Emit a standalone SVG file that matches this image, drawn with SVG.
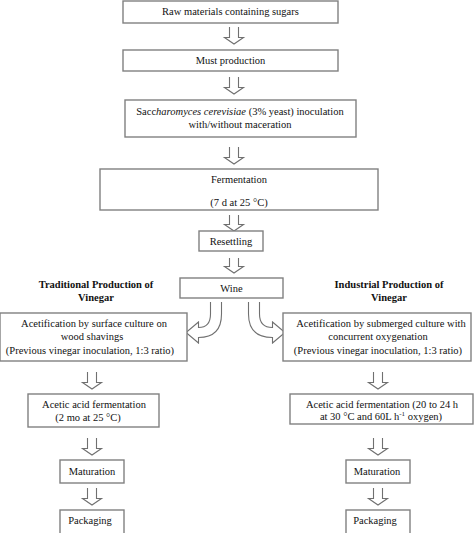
<svg xmlns="http://www.w3.org/2000/svg" width="474" height="533" viewBox="0 0 474 533">
<defs>
<style>
.box{fill:#fff;stroke:#808080;stroke-width:1.4}
.arr{fill:#fff;stroke:#707070;stroke-width:1.1;stroke-linejoin:miter}
text{font-family:"Liberation Serif","Times New Roman",Times,serif;font-size:10.5px;fill:#111;text-anchor:middle}
.b{font-weight:bold}
</style>
</defs>
<rect width="474" height="533" fill="#fff"/>
<g id="connectors">
<path class="arr" d="M229.5,27 V37.5 H224.5 L234,44 L243.5,37.5 H238.5 V27"/>
<path class="arr" d="M229.5,77 V87.5 H224.5 L234,94 L243.5,87.5 H238.5 V77"/>
<path class="arr" d="M229.5,147 V157.5 H224.5 L234,164 L243.5,157.5 H238.5 V147"/>
<path class="arr" d="M229.5,215 V224.5 H224.5 L234,231 L243.5,224.5 H238.5 V215"/>
<path class="arr" d="M229.5,258 V266.5 H224.5 L234,273 L243.5,266.5 H238.5 V258"/>
<path class="arr" d="M210.5,302 V314 Q210.5,327.5 198.5,327.5 V322 L186,332.5 L198.5,343 V337.5 Q221.5,337.5 221.5,314 V302"/>
<path class="arr" d="M259.5,302 V314 Q259.5,327.5 272.5,327.5 V322 L285,332.5 L272.5,343 V337.5 Q248.5,337.5 248.5,314 V302"/>
<path class="arr" d="M87.5,372 V382.5 H82.5 L92,389 L101.5,382.5 H96.5 V372"/>
<path class="arr" d="M373.5,372 V382.5 H368.5 L378,389 L387.5,382.5 H382.5 V372"/>
<path class="arr" d="M87.5,438 V448.5 H82.5 L92,455 L101.5,448.5 H96.5 V438"/>
<path class="arr" d="M373.5,438 V448.5 H368.5 L378,455 L387.5,448.5 H382.5 V438"/>
<path class="arr" d="M87.5,488 V498.5 H82.5 L92,505 L101.5,498.5 H96.5 V488"/>
<path class="arr" d="M373.5,488 V498.5 H368.5 L378,505 L387.5,498.5 H382.5 V488"/>
</g>
<g font-family="Liberation Serif, Times New Roman, serif">
<g id="raw">
<rect class="box" x="123" y="1" width="215" height="22"/>
<text x="230.5" y="15">Raw materials containing sugars</text>
</g>
<g id="must">
<rect class="box" x="123" y="50" width="215" height="21"/>
<text x="230.5" y="64">Must production</text>
</g>
<g id="inoculation">
<rect class="box" x="125" y="100" width="231" height="37"/>
<text x="240" y="115">Sacc<tspan font-style="italic">haromyces cerevisiae</tspan> (3% yeast) inoculation</text>
<text x="240" y="128">with/without maceration</text>
</g>
<g id="fermentation">
<rect class="box" x="100" y="169" width="278" height="41"/>
<text x="239" y="183">Fermentation</text>
<text x="239" y="206">(7 d at 25 °C)</text>
</g>
<g id="resettling">
<rect class="box" x="199" y="231" width="64" height="20"/>
<text x="231" y="245">Resettling</text>
</g>
<g id="wine">
<rect class="box" x="180" y="278" width="103" height="20"/>
<text x="231.5" y="292">Wine</text>
</g>
<g id="traditional-title">
<text class="b" x="96" y="288">Traditional Production of</text>
<text class="b" x="96" y="301">Vinegar</text>
</g>
<g id="industrial-title">
<text class="b" x="389" y="288">Industrial Production of</text>
<text class="b" x="389" y="301">Vinegar</text>
</g>
<g id="trad-acetification">
<rect class="box" x="0" y="313" width="187" height="48"/>
<text x="94" y="327">Acetification by surface culture on</text>
<text x="92" y="340">wood shavings</text>
<text x="90" y="354">(Previous vinegar inoculation, 1:3 ratio)</text>
</g>
<g id="ind-acetification">
<rect class="box" x="283" y="313" width="188" height="48"/>
<text x="381" y="327">Acetification by submerged culture with</text>
<text x="378" y="340">concurrent oxygenation</text>
<text x="378" y="354">(Previous vinegar inoculation, 1:3 ratio)</text>
</g>
<g id="trad-acetic">
<rect class="box" x="28" y="394" width="131" height="33"/>
<text x="94" y="408">Acetic acid fermentation</text>
<text x="88" y="421">(2 mo at 25 °C)</text>
</g>
<g id="ind-acetic">
<rect class="box" x="290" y="394" width="183" height="30"/>
<text x="382" y="408">Acetic acid fermentation (20 to 24 h</text>
<text x="381" y="420">at 30 °C and 60L h<tspan font-size="7" dy="-4">-1</tspan><tspan dy="4"> oxygen)</tspan></text>
</g>
<g id="trad-maturation">
<rect class="box" x="60" y="460" width="64" height="23"/>
<text x="92" y="475">Maturation</text>
</g>
<g id="ind-maturation">
<rect class="box" x="346" y="460" width="64" height="23"/>
<text x="377" y="475">Maturation</text>
</g>
<g id="trad-packaging">
<rect class="box" x="60" y="510" width="64" height="30"/>
<text x="90" y="524">Packaging</text>
</g>
<g id="ind-packaging">
<rect class="box" x="346" y="510" width="64" height="30"/>
<text x="375" y="524">Packaging</text>
</g>
</g>
</svg>
